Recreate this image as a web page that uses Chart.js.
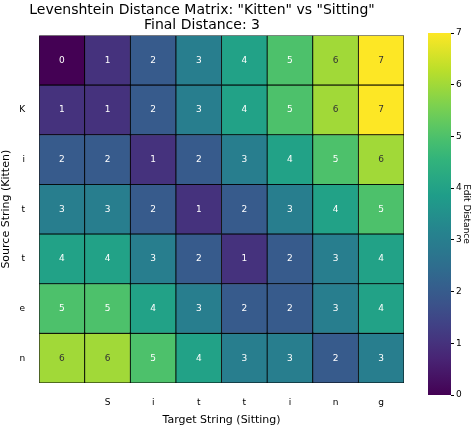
<!DOCTYPE html>
<html>
<head>
<meta charset="utf-8">
<script src="https://cdn.jsdelivr.net/npm/chart.js@4"></script>
<style>
  body { margin: 0; background: #fff; }
  #wrap { position: relative; width: 474px; height: 429px; }
  canvas { position: absolute; top: 0; }
</style>
</head>
<body>
<div id="wrap">
  <canvas id="main" width="474" height="429" style="left:0"></canvas>
  <canvas id="bar" width="74" height="429" style="left:400px"></canvas>
</div>
<script>
// Matrix data
const targetChars = ['', 'S', 'i', 't', 't', 'i', 'n', 'g'];
const sourceChars = ['', 'K', 'i', 't', 't', 'e', 'n'];
const distances = [
  [0, 1, 2, 3, 4, 5, 6, 7],
  [1, 1, 2, 3, 4, 5, 6, 7],
  [2, 2, 1, 2, 3, 4, 5, 6],
  [3, 3, 2, 1, 2, 3, 4, 5],
  [4, 4, 3, 2, 1, 2, 3, 4],
  [5, 5, 4, 3, 2, 2, 3, 4],
  [6, 6, 5, 4, 3, 3, 2, 3],
];
const colorTicks = [0, 1, 2, 3, 4, 5, 6, 7];
const vmax = 7;

const FONT = 'DejaVu Sans';
Chart.defaults.font.family = FONT;
Chart.defaults.color = '#000';

// viridis approximation
const viridisStops = [
  [68, 1, 84], [72, 40, 120], [62, 74, 137], [49, 104, 142], [38, 130, 142],
  [31, 158, 137], [53, 183, 121], [110, 206, 88], [181, 222, 43], [253, 231, 37],
];
function viridis(t) {
  t = Math.max(0, Math.min(1, t));
  const p = t * (viridisStops.length - 1);
  const i = Math.min(Math.floor(p), viridisStops.length - 2);
  const f = p - i;
  const a = viridisStops[i], b = viridisStops[i + 1];
  return `rgb(${a.map((v, k) => Math.round(v + (b[k] - v) * f)).join(',')})`;
}

// one stacked dataset per source row
const datasets = sourceChars.map((ch, r) => ({
  label: ch,
  data: targetChars.map(() => 1),
  backgroundColor: distances[r].map((v) => viridis(v / vmax)),
  borderColor: '#000',
  borderWidth: 0.8,
  borderSkipped: false,
  barPercentage: 1,
  categoryPercentage: 1,
  stack: 's',
}));

const cellLabels = {
  id: 'cellLabels',
  afterDatasetsDraw(chart) {
    const { ctx } = chart;
    ctx.save();
    ctx.font = `9px ${FONT}`;
    ctx.textAlign = 'center';
    ctx.textBaseline = 'middle';
    chart.data.datasets.forEach((ds, r) => {
      chart.getDatasetMeta(r).data.forEach((bar, c) => {
        const v = distances[r][c];
        ctx.fillStyle = v >= 6 ? '#333' : '#fff';
        const p = bar.getProps(['x', 'y', 'base'], true);
        ctx.fillText(String(v), p.x, (p.y + p.base) / 2);
      });
    });
    ctx.restore();
  },
};

new Chart(document.getElementById('main'), {
  type: 'bar',
  data: { labels: targetChars.map((c) => c || ' '), datasets },
  options: {
    responsive: false,
    animation: false,
    devicePixelRatio: 1,
    layout: { padding: { left: 0, right: 70, top: 0, bottom: 2 } },
    plugins: {
      legend: { display: false },
      tooltip: { enabled: false },
      title: {
        display: true,
        text: ['Levenshtein Distance Matrix: "Kitten" vs "Sitting"', 'Final Distance: 3'],
        font: { size: 14, weight: 'normal', lineHeight: 1.05 },
        padding: { top: 3, bottom: 3 },
      },
    },
    scales: {
      x: {
        stacked: true,
        grid: { display: false },
        border: { display: false },
        ticks: { font: { size: 9 }, padding: 6 },
        title: { display: true, text: 'Target String (Sitting)', font: { size: 11 }, padding: 0 },
      },
      y: {
        stacked: true,
        reverse: true,
        min: 0,
        max: sourceChars.length,
        grid: { display: false },
        border: { display: false },
        afterBuildTicks(scale) {
          scale.ticks = sourceChars.map((c, i) => ({ value: i + 0.5 }));
        },
        ticks: {
          font: { size: 9 },
          padding: 6,
          callback: (v) => sourceChars[Math.floor(v)],
        },
        title: { display: true, text: 'Source String (Kitten)', font: { size: 11 }, padding: 0 },
      },
    },
  },
  plugins: [cellLabels],
});

// colorbar
const gradientBar = {
  id: 'gradientBar',
  beforeDatasetsDraw(chart) {
    const { ctx, chartArea: a } = chart;
    const g = ctx.createLinearGradient(0, a.bottom, 0, a.top);
    for (let i = 0; i <= 20; i++) g.addColorStop(i / 20, viridis(i / 20));
    ctx.fillStyle = g;
    ctx.fillRect(a.left, a.top, a.right - a.left, a.bottom - a.top);
  },
};
new Chart(document.getElementById('bar'), {
  type: 'bar',
  data: { labels: [''], datasets: [{ data: [0] }] },
  options: {
    responsive: false,
    animation: false,
    devicePixelRatio: 1,
    layout: { padding: { left: 28, right: 0, top: 33, bottom: 34 } },
    plugins: { legend: { display: false }, tooltip: { enabled: false } },
    scales: {
      x: { display: false },
      y: { display: false },
      cb: {
        position: 'right',
        min: 0,
        max: vmax,
        afterBuildTicks(scale) { scale.ticks = colorTicks.map((v) => ({ value: v })); },
        grid: { display: true, drawOnChartArea: false, drawTicks: true, tickLength: 3, color: '#000' },
        border: { display: false },
        ticks: { font: { size: 9 }, padding: 2 },
        title: { display: true, text: 'Edit Distance', font: { size: 9 }, padding: 2 },
      },
    },
  },
  plugins: [gradientBar],
});
</script>
</body>
</html>
